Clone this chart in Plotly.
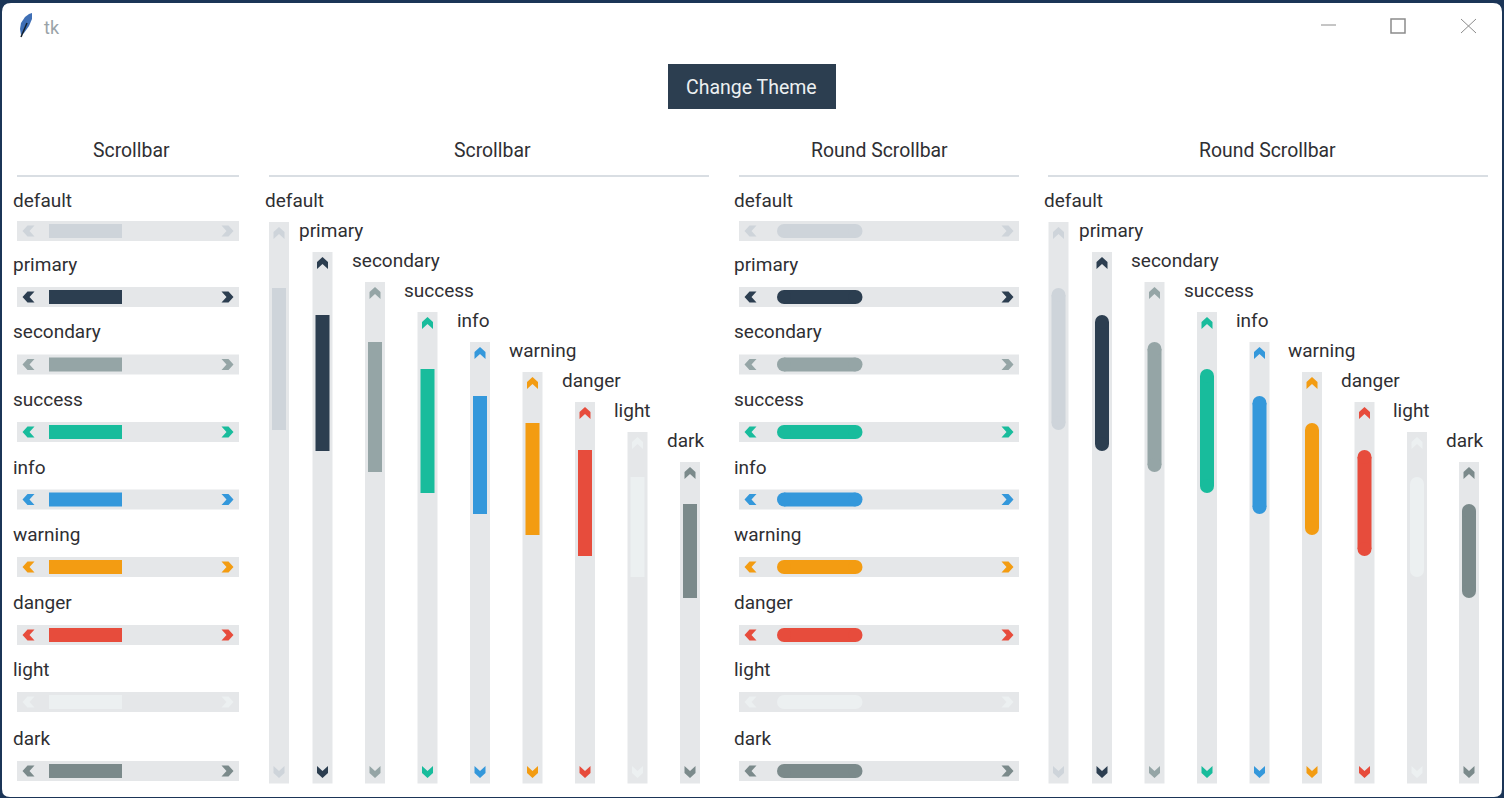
import plotly.graph_objects as go

# ttkbootstrap flatly demo: one window, all drawn in window pixels
STYLES = ["default", "primary", "secondary", "success", "info", "warning", "danger", "light", "dark"]
COLORS = ["#ced4da", "#2c3e50", "#95a5a6", "#18bc9c", "#3498db", "#f39c12", "#e74c3c", "#ecf0f1", "#7b8a8b"]

HEADERS = ["Scrollbar", "Scrollbar", "Round Scrollbar", "Round Scrollbar"]
HEADER_X = [131, 492, 879, 1267.5]
RULES = [(17, 239), (269, 709), (739, 1019), (1048, 1488)]

H_TRACK_Y = [231, 297, 364.5, 432, 499.5, 567, 635, 702, 771]
H_LABEL_Y = [200, 264, 331, 399, 467, 534, 602, 669, 738]

V_TRACK_TOP = [222, 252, 282, 312, 342, 372, 402, 432, 462]
V_LABEL_Y = [200, 230, 260, 290, 320, 350, 380, 410, 440]
V_THUMB_START = [288, 315, 342, 369, 396, 423, 450, 477, 504]
V_THUMB_END = [430, 451, 472, 493, 514, 535, 556, 577, 598]

SQUARE_V_X = [279, 322.5, 375, 427.5, 480, 532.5, 585, 637.5, 690]
SQUARE_V_LABEL_X = [265, 299, 352, 404, 457, 509, 562, 614, 667]
ROUND_V_X = [1058.5, 1102, 1154.5, 1207, 1259.5, 1312, 1364.5, 1417, 1469]
ROUND_V_LABEL_X = [1044, 1079, 1131, 1184, 1236, 1288, 1341, 1393, 1446]

TRACK = "#e5e7e9"
FONT = "Roboto"
TEXT = "#2f2f33"

fig = go.Figure()


def bar(xs, ys, color, width, round_ends=False):
    fig.add_trace(go.Scatter(
        x=xs, y=ys,
        mode="lines+markers" if round_ends else "lines",
        line=dict(color=color, width=width),
        marker=dict(color=color, size=width),
        hoverinfo="skip", showlegend=False,
    ))


def poly(xs, ys, color):
    fig.add_trace(go.Scatter(
        x=xs, y=ys, mode="lines", fill="toself", fillcolor=color,
        line=dict(width=0, color=color), hoverinfo="skip", showlegend=False,
    ))


def chevron(cx, cy, direction, color):
    # along = tip direction, across = the two arms
    along = [-6, -1, 6, 1, 6, -1]
    across = [0, -5.5, -5.5, 0, 5.5, 5.5]
    if direction == "left":
        poly([cx + a for a in along], [cy + b for b in across], color)
    elif direction == "right":
        poly([cx - a for a in along], [cy + b for b in across], color)
    elif direction == "up":
        poly([cx + b for b in across], [cy + a for a in along], color)
    else:
        poly([cx + b for b in across], [cy - a for a in along], color)


def label(x, y, text, anchor="left", size=19, color=TEXT):
    fig.add_annotation(x=x, y=y, text=text, showarrow=False, xanchor=anchor, yanchor="middle",
                       xshift=-2 if anchor == "left" else 0,
                       font=dict(family=FONT, size=size, color=color))


def horizontal_group(x0, x1, thumb0, thumb1, label_x, rounded):
    for name, color, y, ly in zip(STYLES, COLORS, H_TRACK_Y, H_LABEL_Y):
        label(label_x, ly, name)
        bar([x0, x1], [y, y], TRACK, 20)
        chevron(x0 + 11.5, y, "left", color)
        chevron(x1 - 11.5, y, "right", color)
        if rounded:
            bar([thumb0 + 7, thumb1 - 7], [y, y], color, 14, True)
        else:
            bar([thumb0, thumb1], [y, y], color, 14)


def vertical_group(track_x, label_x, rounded):
    for i, name in enumerate(STYLES):
        x, color = track_x[i], COLORS[i]
        top, bottom = V_TRACK_TOP[i], 783.5
        start, end = V_THUMB_START[i], V_THUMB_END[i]
        label(label_x[i], V_LABEL_Y[i], name)
        bar([x, x], [top, bottom], TRACK, 20)
        chevron(x, top + 11, "up", color)
        chevron(x, bottom - 11.5, "down", color)
        if rounded:
            bar([x, x], [start + 7, end - 7], color, 14, True)
        else:
            bar([x, x], [start, end], color, 14)


# section headers and rules
for text, x in zip(HEADERS, HEADER_X):
    label(x, 150, text, anchor="center", size=19.4)
for x0, x1 in RULES:
    bar([x0, x1], [176, 176], "#d9dee3", 2)

horizontal_group(17, 239, 49, 122, 13, False)
vertical_group(SQUARE_V_X, SQUARE_V_LABEL_X, False)
horizontal_group(739, 1019, 777, 862.5, 734, True)
vertical_group(ROUND_V_X, ROUND_V_LABEL_X, True)

# Change Theme button
bar([668, 836], [86.5, 86.5], "#2c3e50", 45)
label(751.5, 87, "Change Theme", anchor="center", size=19.5, color="#ecf0f1")

# title bar
label(44, 27, "tk", size=18, color="#9aa3a8")
poly([21, 20, 21, 25, 29, 32, 32, 29, 24], [35, 29, 23, 17, 14, 13, 19, 26, 33], "#3f6fb5")
bar([21, 27], [37, 23], "#15202b", 1.5)
bar([1321, 1336], [25, 25], "#8c8c8c", 1)
fig.add_shape(type="rect", x0=1391, x1=1405, y0=19, y1=33, line=dict(color="#8c8c8c", width=1.5))
bar([1461, 1476], [19, 33], "#8c8c8c", 1)
bar([1461, 1476], [33, 19], "#8c8c8c", 1)

# window body with rounded corners over the dark desktop
fig.add_shape(
    type="path", layer="below", fillcolor="white", line=dict(width=0),
    path="M 2 12 Q 2 3 11 3 L 1493 3 Q 1502 3 1502 12 L 1502 789 Q 1502 797 1494 797 "
         "L 10 797 Q 2 797 2 789 Z",
)

fig.update_layout(
    width=1504, height=798,
    margin=dict(l=0, r=0, t=0, b=0),
    paper_bgcolor="#1b3557", plot_bgcolor="rgba(0,0,0,0)",
    xaxis=dict(range=[0, 1504], visible=False, fixedrange=True),
    yaxis=dict(range=[798, 0], visible=False, fixedrange=True),
    showlegend=False,
)

# page margin would shift the window by 8px
fig.write_html(
    "out.html",
    config={"displayModeBar": False},
    post_script="document.body.style.margin='0';document.body.style.overflow='hidden';",
)
